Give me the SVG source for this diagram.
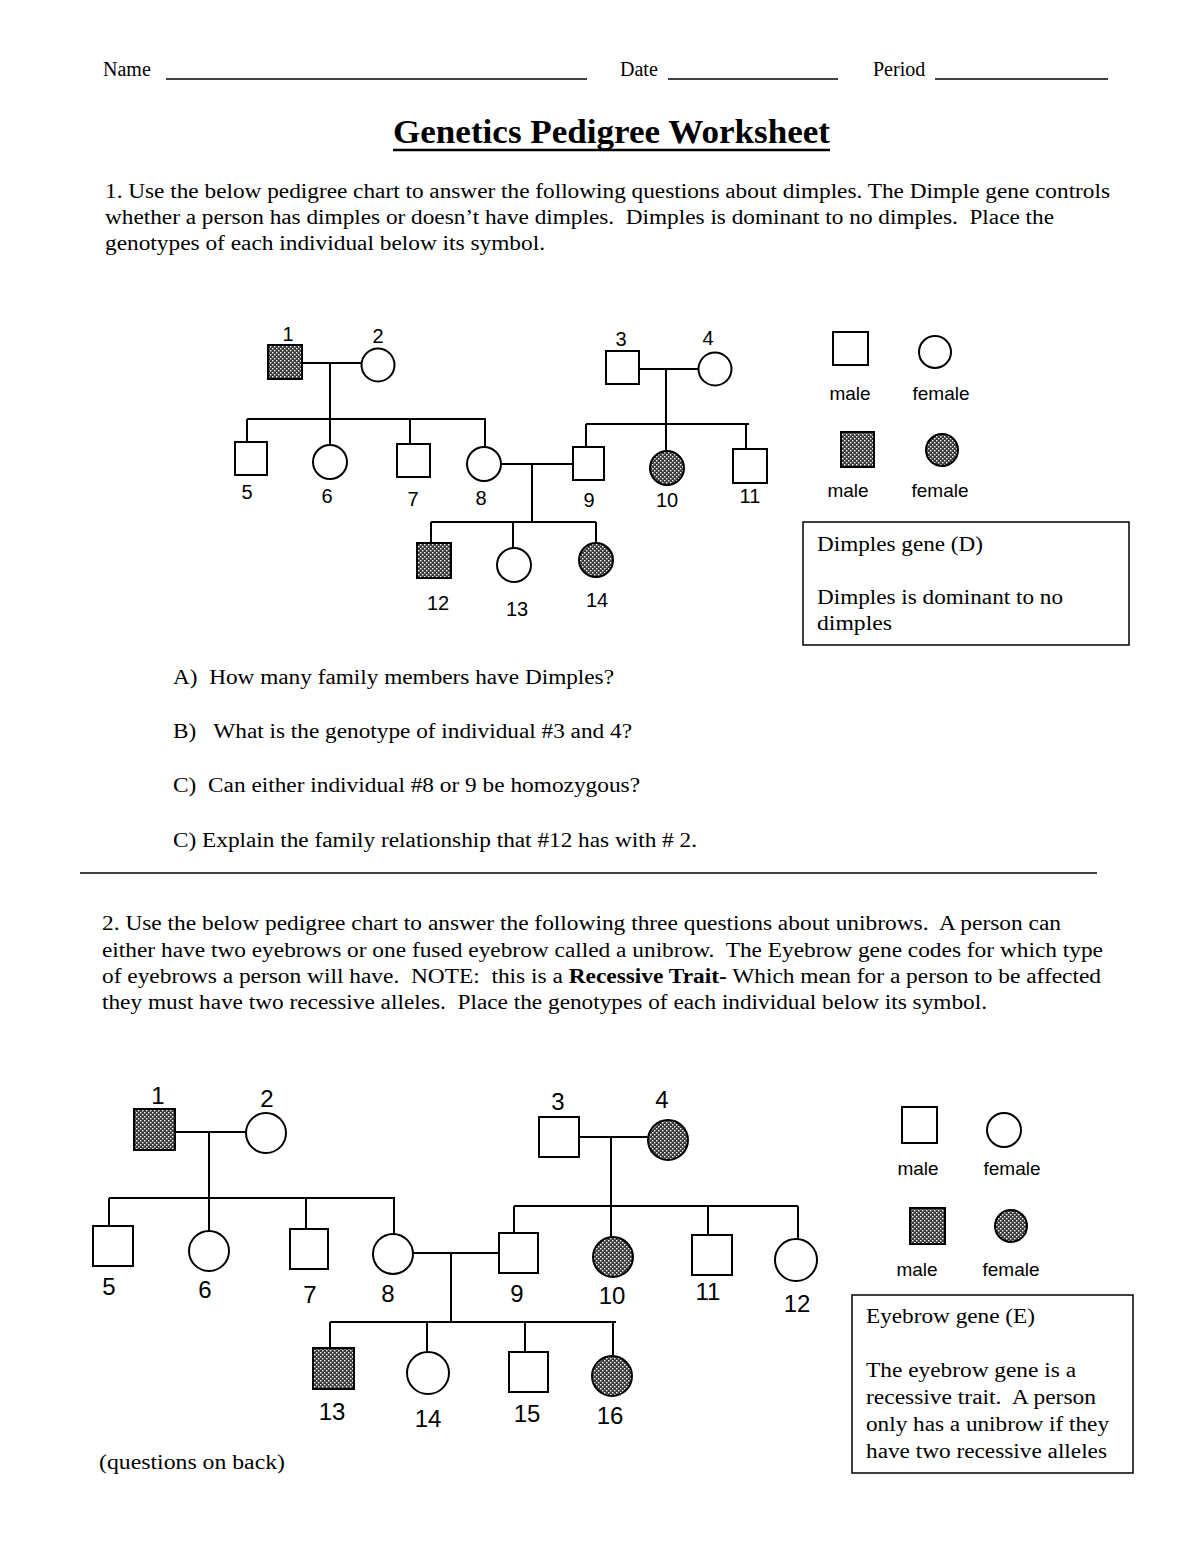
<svg xmlns="http://www.w3.org/2000/svg" width="1200" height="1553" viewBox="0 0 1200 1553">
<defs>
<pattern id="stip" width="4" height="4" patternUnits="userSpaceOnUse">
<rect width="4" height="4" fill="#3a3a3a"/>
<rect x="0" y="0" width="1.4" height="1.4" fill="#fff"/>
<rect x="2" y="2" width="1.4" height="1.4" fill="#fff"/>
</pattern>
</defs>
<style>
.t{font-family:"Liberation Serif","Times New Roman",serif;font-size:20px;fill:#000;white-space:pre}
.tb{font-weight:bold}
.n1{font-family:"Liberation Sans",Arial,sans-serif;font-size:20px;fill:#000;text-anchor:middle}
.n2{font-family:"Liberation Sans",Arial,sans-serif;font-size:24px;fill:#000;text-anchor:middle}
.lg{font-family:"Liberation Sans",Arial,sans-serif;font-size:19px;fill:#000}
.o{fill:#fff;stroke:#000;stroke-width:2}
.f{fill:url(#stip);stroke:#000;stroke-width:2}
.c{stroke:#000;stroke-width:2;fill:none}
.ul{stroke:#000;stroke-width:1.5}
</style>
<rect width="1200" height="1553" fill="#fff"/>

<!-- header -->
<g id="header">
<text class="t" x="103" y="76">Name</text>
<line class="ul" x1="166" y1="79" x2="587" y2="79"/>
<text class="t" x="620" y="76">Date</text>
<line class="ul" x1="668" y1="79" x2="838" y2="79"/>
<text class="t" x="873" y="76">Period</text>
<line class="ul" x1="935" y1="79" x2="1108" y2="79"/>
<text class="t tb" x="393" y="143" style="font-size:33px" textLength="437" lengthAdjust="spacingAndGlyphs">Genetics Pedigree Worksheet</text>
<line x1="393" y1="150" x2="830" y2="150" stroke="#000" stroke-width="2.5"/>
</g>

<g id="para1">
<text class="t" x="105" y="198" textLength="1005" lengthAdjust="spacingAndGlyphs">1. Use the below pedigree chart to answer the following questions about dimples. The Dimple gene controls</text>
<text class="t" x="105" y="224" textLength="949" lengthAdjust="spacingAndGlyphs">whether a person has dimples or doesn’t have dimples.  Dimples is dominant to no dimples.  Place the</text>
<text class="t" x="105" y="250" textLength="440" lengthAdjust="spacingAndGlyphs">genotypes of each individual below its symbol.</text>
</g>

<!-- pedigree 1 connectors -->
<g id="connectors1">
<line class="c" x1="302" y1="363" x2="362" y2="363"/>
<line class="c" x1="330" y1="363" x2="330" y2="419"/>
<line class="c" x1="247" y1="419" x2="486" y2="419"/>
<line class="c" x1="247" y1="419" x2="247" y2="442"/>
<line class="c" x1="330" y1="419" x2="330" y2="445"/>
<line class="c" x1="410" y1="419" x2="410" y2="444"/>
<line class="c" x1="485" y1="419" x2="485" y2="447"/>
<line class="c" x1="639" y1="369" x2="699" y2="369"/>
<line class="c" x1="666" y1="369" x2="666" y2="424"/>
<line class="c" x1="586" y1="424" x2="749" y2="424"/>
<line class="c" x1="586" y1="424" x2="586" y2="447"/>
<line class="c" x1="666" y1="424" x2="666" y2="451"/>
<line class="c" x1="746" y1="424" x2="746" y2="449"/>
<line class="c" x1="501" y1="464" x2="573" y2="464"/>
<line class="c" x1="532" y1="464" x2="532" y2="522"/>
<line class="c" x1="431" y1="522" x2="596" y2="522"/>
<line class="c" x1="431" y1="522" x2="431" y2="543"/>
<line class="c" x1="513" y1="522" x2="513" y2="548"/>
<line class="c" x1="596" y1="522" x2="596" y2="543"/>
</g>

<g id="p1n1"><rect class="f" x="268" y="345" width="34" height="34"/><text class="n1" x="288" y="341">1</text></g>
<g id="p1n2"><circle class="o" cx="378" cy="365" r="16.5"/><text class="n1" x="378" y="343">2</text></g>
<g id="p1n3"><rect class="o" x="606" y="351" width="33" height="33"/><text class="n1" x="621" y="346">3</text></g>
<g id="p1n4"><circle class="o" cx="715" cy="369" r="16.5"/><text class="n1" x="708" y="345">4</text></g>
<g id="p1n5"><rect class="o" x="235" y="442" width="32" height="33"/><text class="n1" x="247" y="499">5</text></g>
<g id="p1n6"><circle class="o" cx="330" cy="462" r="17"/><text class="n1" x="327" y="503">6</text></g>
<g id="p1n7"><rect class="o" x="397" y="444" width="33" height="33"/><text class="n1" x="413" y="506">7</text></g>
<g id="p1n8"><circle class="o" cx="484" cy="464" r="17"/><text class="n1" x="481" y="505">8</text></g>
<g id="p1n9"><rect class="o" x="573" y="447" width="31" height="33"/><text class="n1" x="589" y="507">9</text></g>
<g id="p1n10"><circle class="f" cx="667" cy="468" r="17"/><text class="n1" x="667" y="507">10</text></g>
<g id="p1n11"><rect class="o" x="733" y="449" width="34" height="34"/><text class="n1" x="750" y="503">11</text></g>
<g id="p1n12"><rect class="f" x="417" y="543" width="34" height="35"/><text class="n1" x="438" y="610">12</text></g>
<g id="p1n13"><circle class="o" cx="514" cy="565" r="17"/><text class="n1" x="517" y="616">13</text></g>
<g id="p1n14"><circle class="f" cx="596" cy="560" r="17"/><text class="n1" x="597" y="607">14</text></g>

<g id="legend1">
<rect class="o" x="833" y="332" width="35" height="33" stroke-width="1.5"/>
<circle class="o" cx="935" cy="352" r="16" stroke-width="1.5"/>
<text class="lg" x="850" y="400" text-anchor="middle">male</text>
<text class="lg" x="941" y="400" text-anchor="middle">female</text>
<rect class="f" x="841" y="432" width="33" height="35" stroke-width="1"/>
<circle class="f" cx="942" cy="450" r="16" stroke-width="1"/>
<text class="lg" x="848" y="497" text-anchor="middle">male</text>
<text class="lg" x="940" y="497" text-anchor="middle">female</text>
<rect x="803" y="522" width="326" height="123" fill="none" stroke="#000" stroke-width="1.5"/>
<text class="t" x="817" y="551" textLength="166" lengthAdjust="spacingAndGlyphs">Dimples gene (D)</text>
<text class="t" x="817" y="604" textLength="246" lengthAdjust="spacingAndGlyphs">Dimples is dominant to no</text>
<text class="t" x="817" y="630" textLength="75" lengthAdjust="spacingAndGlyphs">dimples</text>
</g>

<g id="questions1">
<text class="t" x="173" y="684" textLength="441" lengthAdjust="spacingAndGlyphs">A)  How many family members have Dimples?</text>
<text class="t" x="173" y="738" textLength="459" lengthAdjust="spacingAndGlyphs">B)   What is the genotype of individual #3 and 4?</text>
<text class="t" x="173" y="792" textLength="467" lengthAdjust="spacingAndGlyphs">C)  Can either individual #8 or 9 be homozygous?</text>
<text class="t" x="173" y="847" textLength="524" lengthAdjust="spacingAndGlyphs">C) Explain the family relationship that #12 has with # 2.</text>
<line x1="80" y1="873" x2="1097" y2="873" stroke="#000" stroke-width="1.5"/>
</g>

<g id="para2">
<text class="t" x="102" y="930" textLength="959" lengthAdjust="spacingAndGlyphs">2. Use the below pedigree chart to answer the following three questions about unibrows.  A person can</text>
<text class="t" x="102" y="957" textLength="1001" lengthAdjust="spacingAndGlyphs">either have two eyebrows or one fused eyebrow called a unibrow.  The Eyebrow gene codes for which type</text>
<text class="t" x="102" y="983" textLength="999" lengthAdjust="spacingAndGlyphs">of eyebrows a person will have.  NOTE:  this is a <tspan class="tb">Recessive Trait-</tspan> Which mean for a person to be affected</text>
<text class="t" x="102" y="1009" textLength="885" lengthAdjust="spacingAndGlyphs">they must have two recessive alleles.  Place the genotypes of each individual below its symbol.</text>
</g>

<!-- pedigree 2 connectors -->
<g id="connectors2">
<line class="c" x1="175" y1="1132" x2="247" y2="1132"/>
<line class="c" x1="209" y1="1132" x2="209" y2="1198"/>
<line class="c" x1="109" y1="1198" x2="395" y2="1198"/>
<line class="c" x1="109" y1="1198" x2="109" y2="1226"/>
<line class="c" x1="209" y1="1198" x2="209" y2="1231"/>
<line class="c" x1="306" y1="1198" x2="306" y2="1229"/>
<line class="c" x1="394" y1="1198" x2="394" y2="1234"/>
<line class="c" x1="579" y1="1137" x2="648" y2="1137"/>
<line class="c" x1="611" y1="1137" x2="611" y2="1206"/>
<line class="c" x1="514" y1="1206" x2="798" y2="1206"/>
<line class="c" x1="514" y1="1206" x2="514" y2="1233"/>
<line class="c" x1="611" y1="1206" x2="611" y2="1237"/>
<line class="c" x1="708" y1="1206" x2="708" y2="1235"/>
<line class="c" x1="798" y1="1206" x2="798" y2="1239"/>
<line class="c" x1="413" y1="1253" x2="499" y2="1253"/>
<line class="c" x1="451" y1="1253" x2="451" y2="1322"/>
<line class="c" x1="330" y1="1322" x2="616" y2="1322"/>
<line class="c" x1="330" y1="1322" x2="330" y2="1348"/>
<line class="c" x1="427" y1="1322" x2="427" y2="1352"/>
<line class="c" x1="525" y1="1322" x2="525" y2="1352"/>
<line class="c" x1="613" y1="1322" x2="613" y2="1355"/>
</g>

<g id="p2n1"><rect class="f" x="134" y="1109" width="41" height="41"/><text class="n2" x="158" y="1104">1</text></g>
<g id="p2n2"><circle class="o" cx="266" cy="1133" r="20"/><text class="n2" x="267" y="1107">2</text></g>
<g id="p2n3"><rect class="o" x="539" y="1117" width="40" height="40"/><text class="n2" x="558" y="1110">3</text></g>
<g id="p2n4"><circle class="f" cx="668" cy="1140" r="20"/><text class="n2" x="662" y="1108">4</text></g>
<g id="p2n5"><rect class="o" x="93" y="1226" width="40" height="40"/><text class="n2" x="109" y="1295">5</text></g>
<g id="p2n6"><circle class="o" cx="209" cy="1251" r="20"/><text class="n2" x="205" y="1298">6</text></g>
<g id="p2n7"><rect class="o" x="290" y="1229" width="38" height="40"/><text class="n2" x="310" y="1303">7</text></g>
<g id="p2n8"><circle class="o" cx="393" cy="1254" r="20"/><text class="n2" x="388" y="1302">8</text></g>
<g id="p2n9"><rect class="o" x="499" y="1233" width="39" height="40"/><text class="n2" x="517" y="1302">9</text></g>
<g id="p2n10"><circle class="f" cx="613" cy="1257" r="20"/><text class="n2" x="612" y="1304">10</text></g>
<g id="p2n11"><rect class="o" x="692" y="1235" width="40" height="40"/><text class="n2" x="708" y="1300">11</text></g>
<g id="p2n12"><circle class="o" cx="796" cy="1260" r="21"/><text class="n2" x="797" y="1312">12</text></g>
<g id="p2n13"><rect class="f" x="313" y="1348" width="41" height="41"/><text class="n2" x="332" y="1420">13</text></g>
<g id="p2n14"><circle class="o" cx="428" cy="1373" r="21"/><text class="n2" x="428" y="1427">14</text></g>
<g id="p2n15"><rect class="o" x="509" y="1352" width="39" height="40"/><text class="n2" x="527" y="1422">15</text></g>
<g id="p2n16"><circle class="f" cx="612" cy="1376" r="20"/><text class="n2" x="610" y="1424">16</text></g>

<g id="legend2">
<rect class="o" x="902" y="1107" width="35" height="36" stroke-width="1.5"/>
<circle class="o" cx="1004" cy="1130" r="17" stroke-width="1.5"/>
<text class="lg" x="918" y="1175" text-anchor="middle">male</text>
<text class="lg" x="1012" y="1175" text-anchor="middle">female</text>
<rect class="f" x="910" y="1208" width="35" height="36" stroke-width="1"/>
<circle class="f" cx="1011" cy="1226" r="16" stroke-width="1"/>
<text class="lg" x="917" y="1276" text-anchor="middle">male</text>
<text class="lg" x="1011" y="1276" text-anchor="middle">female</text>
<rect x="852" y="1295" width="281" height="178" fill="none" stroke="#000" stroke-width="1.5"/>
<text class="t" x="866" y="1323" textLength="169" lengthAdjust="spacingAndGlyphs">Eyebrow gene (E)</text>
<text class="t" x="866" y="1377" textLength="210" lengthAdjust="spacingAndGlyphs">The eyebrow gene is a</text>
<text class="t" x="866" y="1404" textLength="230" lengthAdjust="spacingAndGlyphs">recessive trait.  A person</text>
<text class="t" x="866" y="1431" textLength="243" lengthAdjust="spacingAndGlyphs">only has a unibrow if they</text>
<text class="t" x="866" y="1458" textLength="241" lengthAdjust="spacingAndGlyphs">have two recessive alleles</text>
</g>

<text class="t" x="99" y="1469" textLength="186" lengthAdjust="spacingAndGlyphs">(questions on back)</text>
</svg>
